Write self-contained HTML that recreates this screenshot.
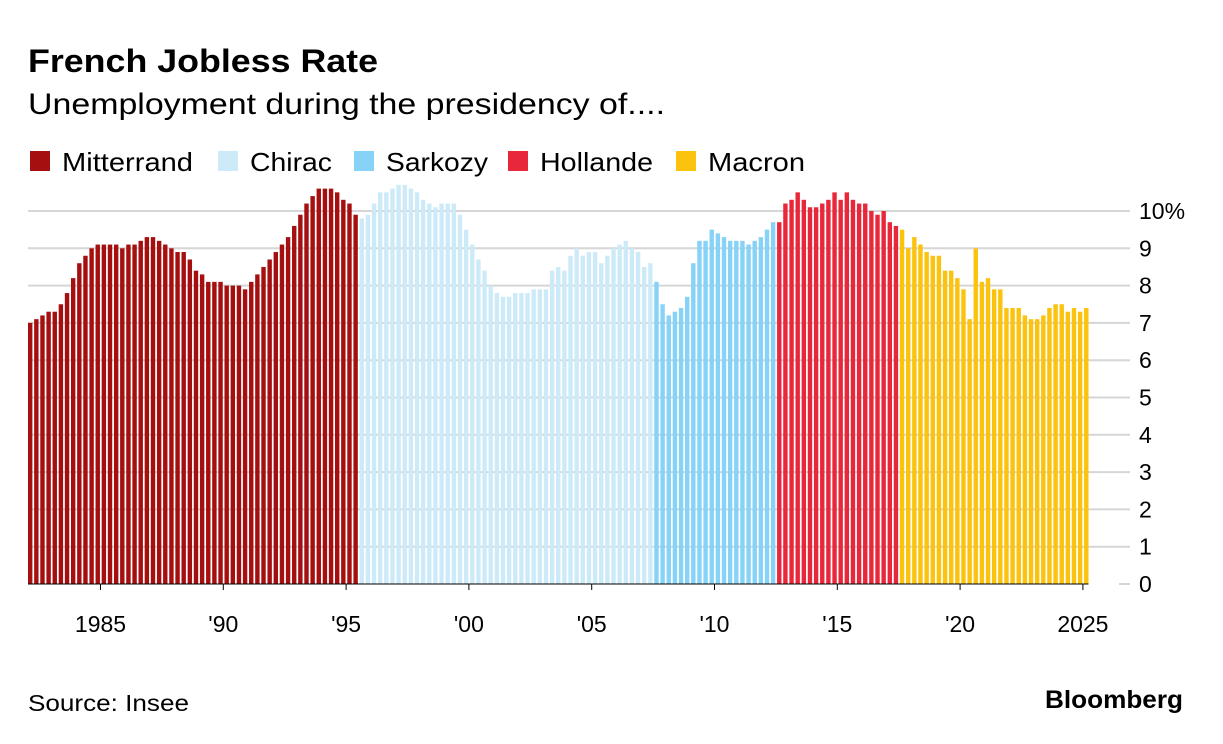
<!DOCTYPE html>
<html><head><meta charset="utf-8"><style>
body{margin:0;background:#fff;width:1223px;height:744px;overflow:hidden;font-family:"Liberation Sans",Arial,sans-serif}
svg{display:block}
</style></head><body>
<svg id="chart" width="1223" height="744" xmlns="http://www.w3.org/2000/svg">
<text x="28" y="72" font-size="32" font-weight="bold" fill="#000" textLength="350" lengthAdjust="spacingAndGlyphs">French Jobless Rate</text>
<text x="28" y="114" font-size="30" fill="#000" textLength="637" lengthAdjust="spacingAndGlyphs">Unemployment during the presidency of....</text>
<g id="legend"></g>
<g id="grid"></g>
<g id="bars"></g>
<g id="axes"></g>
<text x="28" y="711" font-size="23" fill="#000" textLength="161" lengthAdjust="spacingAndGlyphs">Source: Insee</text>
<text x="1045" y="708" font-size="25" font-weight="bold" fill="#000" textLength="138" lengthAdjust="spacingAndGlyphs">Bloomberg</text>
</svg>
<script>
const presidents = ["Mitterrand","Chirac","Sarkozy","Hollande","Macron"];
const colors = ["#a50f0f","#cdeaf9","#86d3f7","#e8283a","#fbc20e"];
const mitterrand = [7.0,7.1,7.2,7.3,7.3,7.5,7.8,8.2,8.6,8.8,9.0,9.1,9.1,9.1,9.1,9.0,9.1,9.1,9.2,9.3,9.3,9.2,9.1,9.0,8.9,8.9,8.7,8.4,8.3,8.1,8.1,8.1,8.0,8.0,8.0,7.9,8.1,8.3,8.5,8.7,8.9,9.1,9.3,9.6,9.9,10.2,10.4,10.6,10.6,10.6,10.5,10.3,10.2,9.9];
const chirac = [9.8,9.9,10.2,10.5,10.5,10.6,10.7,10.7,10.6,10.5,10.3,10.2,10.1,10.2,10.2,10.2,9.9,9.5,9.1,8.7,8.4,8.0,7.8,7.7,7.7,7.8,7.8,7.8,7.9,7.9,7.9,8.4,8.5,8.4,8.8,9.0,8.8,8.9,8.9,8.6,8.8,9.0,9.1,9.2,9.0,8.9,8.5,8.6];
const sarkozy = [8.1,7.5,7.2,7.3,7.4,7.7,8.6,9.2,9.2,9.5,9.4,9.3,9.2,9.2,9.2,9.1,9.2,9.3,9.5,9.7];
const hollande = [9.7,10.2,10.3,10.5,10.3,10.1,10.1,10.2,10.3,10.5,10.3,10.5,10.3,10.2,10.2,10.0,9.9,10.0,9.7,9.6];
const macron = [9.5,9.0,9.3,9.1,8.9,8.8,8.8,8.4,8.4,8.2,7.9,7.1,9.0,8.1,8.2,7.9,7.9,7.4,7.4,7.4,7.2,7.1,7.1,7.2,7.4,7.5,7.5,7.3,7.4,7.3,7.4];
const yTicks = [0,1,2,3,4,5,6,7,8,9,10];
const xTickYears = [1985,1990,1995,2000,2005,2010,2015,2020,2025];
const xTickLabels = ["1985","'90","'95","'00","'05","'10","'15","'20","2025"];
const startYear = 1982;

const NS="http://www.w3.org/2000/svg";
function mk(tag,attrs,parent,txt){const e=document.createElementNS(NS,tag);for(const k in attrs)e.setAttribute(k,attrs[k]);if(txt!==undefined)e.textContent=txt;parent.appendChild(e);return e;}
const y0=584, pxPerUnit=37.3;
function yScale(v){return y0-v*pxPerUnit;}
const barStart=28, pitch=6.14, barW=4.4;
function xIndex(i){return barStart+i*pitch;}
function xYear(yr){return 100.5+(yr-1985)*4*pitch;}

const grid=document.getElementById('grid');
yTicks.forEach(t=>{
  const yy=yScale(t);
  const ln=mk('line',{x1:t===0?1119:28,x2:1130,y1:yy,y2:yy,stroke:'#d6d6d6','stroke-width':2},grid);
  
  
  const tx=mk('text',{x:1139,y:yy+8,'font-size':23,fill:'#000'},grid,t===10?'10%':String(t));
  
  
});

const bars=document.getElementById('bars');
const series=[mitterrand,chirac,sarkozy,hollande,macron];
let idx=0;
series.forEach((s,si)=>{
  s.forEach(v=>{
    const r=mk('rect',{x:xIndex(idx),y:yScale(v),width:barW,height:y0-yScale(v),fill:colors[si]},bars);
    
    
    idx++;
  });
});

const axes=document.getElementById('axes');
const base=mk('line',{x1:28,x2:xIndex(idx-1)+barW,y1:y0,y2:y0,stroke:'#000','stroke-width':1},axes);


xTickYears.forEach((yr,i)=>{
  const xx=xYear(yr);
  const tk=mk('line',{x1:xx,x2:xx,y1:y0,y2:y0+6,stroke:'#000','stroke-width':1},axes);
  
  
  const tx=mk('text',{x:xx,y:632,'font-size':23,'text-anchor':'middle',fill:'#000'},axes,xTickLabels[i]);
  
  
});

const legend=document.getElementById('legend');
const legX=[30,218,354,508,676];
const legW=[131,82,102,113,97];
presidents.forEach((p,i)=>{
  const sw=mk('rect',{x:legX[i],y:151,width:20,height:20,fill:colors[i]},legend);
  
  
  const tx=mk('text',{x:legX[i]+32,y:171,'font-size':26,fill:'#000',textLength:legW[i],lengthAdjust:'spacingAndGlyphs'},legend,p);
  
  
});
</script>
</body></html>
